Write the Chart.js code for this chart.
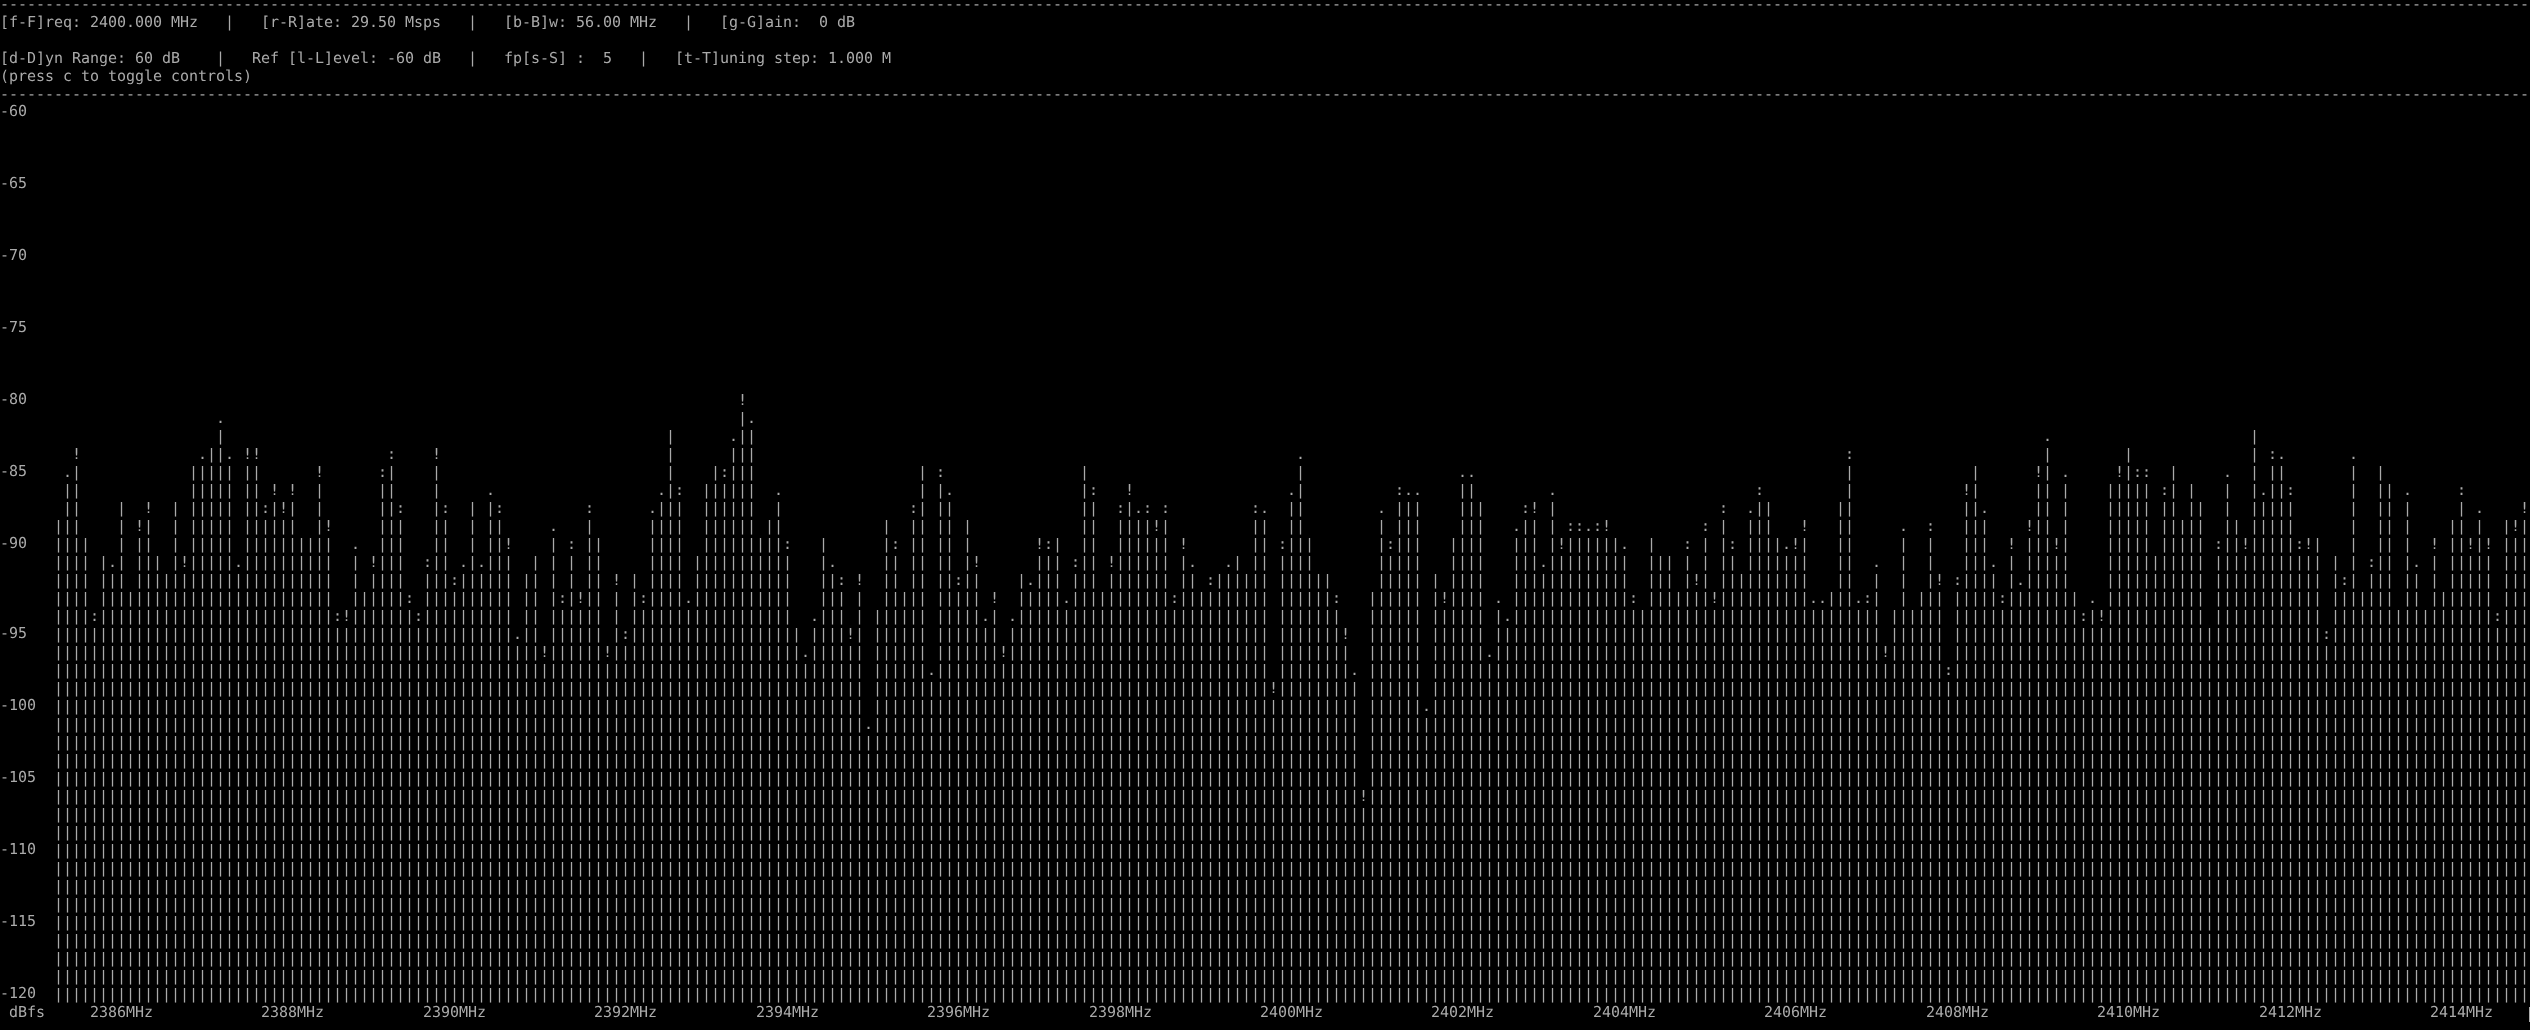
<!DOCTYPE html>
<html>
<head>
<meta charset="utf-8">
<title>Spectrum</title>
<script src="https://cdn.jsdelivr.net/npm/chart.js@4"></script>
<style>
html,body{margin:0;padding:0;background:#000;width:2530px;height:1030px;overflow:hidden}
#wrap{position:absolute;left:0;top:0;width:2530px;height:1030px}
canvas{display:block}
pre{position:absolute;margin:0;color:#aaa;font:15px/18px "DejaVu Sans Mono",monospace;letter-spacing:-0.0308px;white-space:pre;text-rendering:geometricPrecision}
#cursor{position:absolute;left:2529px;top:1007px;width:1px;height:15px;background:#aaa}
</style>
</head>
<body>
<div id="wrap"><canvas id="c" width="2530" height="1030"></canvas></div>
<pre id="head" style="left:0;top:-5px"></pre>
<pre id="unit" style="left:9px;top:1003px"></pre>
<div id="cursor"></div>
<script>
const headerLines = [
  '-'.repeat(281),
  '[f-F]req: 2400.000 MHz   |   [r-R]ate: 29.50 Msps   |   [b-B]w: 56.00 MHz   |   [g-G]ain:  0 dB',
  '',
  '[d-D]yn Range: 60 dB    |   Ref [l-L]evel: -60 dB   |   fp[s-S] :  5   |   [t-T]uning step: 1.000 M',
  '(press c to toggle controls)',
  '-'.repeat(281)
];
const unitLabel = 'dBfs';
const refLevelDb = -60;
const dynRangeDb = 60;
const rowCount = 49;
const yTickRows = [0, 4, 8, 12, 16, 20, 24, 29, 33, 37, 41, 45, 49];
const yTickLabels = ['-60','-65','-70','-75','-80','-85','-90','-95','-100','-105','-110','-115','-120'];
const xTickColumns = [7, 26, 44, 63, 81, 100, 118, 137, 156, 174, 193, 211, 230, 248, 267];
const xTickLabels = ['2386MHz','2388MHz','2390MHz','2392MHz','2394MHz','2396MHz','2398MHz','2400MHz','2402MHz','2404MHz','2406MHz','2408MHz','2410MHz','2412MHz','2414MHz'];
const peakDb = [
-88.3,-85.6,-83.7,-89.5,-95.1,-90.8,-91.7,-87.1,-93.2,-88.6,-87.4,-90.8,-92.0,-87.1,-91.1,-84.6,-84.3,-83.4,-81.9,-84.3,
-91.7,-83.7,-83.7,-87.7,-86.2,-87.4,-86.2,-89.5,-89.5,-84.9,-88.6,-95.1,-94.7,-90.5,-93.2,-91.1,-85.3,-84.0,-87.7,-93.8,
-95.1,-91.4,-83.7,-87.7,-92.6,-91.7,-87.1,-91.7,-86.8,-87.7,-89.8,-96.6,-92.0,-90.8,-97.2,-89.2,-93.8,-90.2,-93.5,-87.7,
-89.5,-97.2,-92.3,-96.3,-92.0,-93.8,-88.0,-86.8,-82.2,-86.5,-94.1,-90.8,-85.9,-84.6,-85.3,-83.1,-80.1,-81.9,-89.5,-88.3,
-86.8,-90.2,-95.7,-97.8,-95.4,-89.5,-91.7,-92.6,-96.0,-92.3,-102.7,-94.4,-88.3,-90.2,-93.2,-87.7,-84.6,-99.0,-85.3,-86.8,
-92.6,-88.3,-91.1,-95.4,-93.5,-97.2,-95.4,-92.0,-92.9,-89.8,-90.2,-89.5,-94.1,-91.4,-84.6,-86.5,-93.2,-91.1,-87.7,-86.2,
-88.0,-87.7,-88.6,-87.7,-93.8,-89.8,-91.7,-93.2,-92.6,-92.0,-91.7,-90.8,-92.0,-87.7,-88.0,-99.6,-90.2,-86.8,-84.3,-89.5,
-92.0,-92.0,-93.8,-96.0,-99.0,-107.0,-93.2,-88.0,-90.2,-86.5,-86.8,-86.8,-101.5,-92.0,-93.5,-89.5,-85.6,-85.6,-87.1,-97.8,
-94.1,-95.4,-89.2,-87.7,-87.4,-91.7,-86.8,-89.8,-88.9,-88.9,-89.2,-88.9,-88.6,-89.5,-90.5,-93.8,-94.4,-89.5,-90.8,-90.8,
-93.2,-90.2,-92.3,-88.9,-93.5,-87.7,-90.2,-92.0,-88.0,-86.5,-87.1,-89.5,-90.5,-89.8,-88.6,-94.1,-94.1,-93.2,-87.1,-84.0,
-94.1,-93.8,-91.7,-97.2,-94.4,-89.2,-94.4,-93.2,-88.9,-92.3,-98.7,-92.6,-86.2,-84.6,-88.0,-91.7,-93.8,-89.8,-92.9,-88.6,
-84.9,-83.1,-89.8,-85.6,-93.2,-95.1,-94.1,-94.7,-85.9,-84.9,-83.4,-85.3,-85.3,-90.8,-86.5,-84.6,-88.3,-85.9,-87.1,-95.7,
-90.2,-85.6,-88.3,-89.8,-82.2,-86.8,-84.0,-84.3,-86.5,-90.2,-89.8,-89.5,-96.3,-90.8,-92.6,-84.3,-93.2,-91.4,-84.6,-85.9,
-94.4,-86.8,-91.7,-94.4,-89.8,-93.2,-88.3,-86.5,-89.8,-88.0,-89.8,-95.1,-88.3,-88.6,-87.4
];

const textColor = '#aaaaaa';
const monoFont = '"DejaVu Sans Mono", monospace';

document.getElementById('head').textContent = headerLines.join('\n');
document.getElementById('unit').textContent = unitLabel;

// Glyph sprites used as point styles: one terminal cell each.
function glyphSprite(ch) {
  const cv = document.createElement('canvas');
  cv.width = 9; cv.height = 18;
  const g = cv.getContext('2d');
  g.textRendering = 'geometricPrecision';
  g.font = '15px ' + monoFont;
  g.fillStyle = textColor;
  g.textBaseline = 'alphabetic';
  if (ch === '|') {
    g.beginPath(); g.rect(0, 3, 9, 15); g.clip();
    g.fillText(ch, 0, 14.46);
  } else {
    g.fillText(ch, 0, 14);
  }
  return cv;
}
const glyphs = ['|', '!', ':', '.'];
const rowDb = dynRangeDb / rowCount;
const rowToDb = r => refLevelDb - r * rowDb;
const cells = { '|': [], '!': [], ':': [], '.': [] };
peakDb.forEach((v, col) => {
  const p = (refLevelDb - v) / rowDb;
  const top = Math.floor(p);
  const g = glyphs[Math.min(3, Math.floor((p - top) * 4))];
  cells[g].push({ x: col, y: rowToDb(top) });
  for (let r = top + 1; r <= rowCount; r++) cells['|'].push({ x: col, y: rowToDb(r) });
});

new Chart(document.getElementById('c'), {
  type: 'scatter',
  data: {
    datasets: glyphs.map(g => ({
      label: g,
      data: cells[g],
      pointStyle: glyphSprite(g),
      pointRadius: 1,
      pointHoverRadius: 1,
      showLine: false,
      clip: false
    }))
  },
  plugins: [{ id: 'textMode', beforeDraw: c => { c.ctx.textRendering = 'geometricPrecision'; } }],
  options: {
    responsive: false,
    animation: false,
    events: [],
    devicePixelRatio: 1,
    layout: { autoPadding: false, padding: { left: 0, top: 112, right: 1, bottom: 0 } },
    plugins: { legend: { display: false }, tooltip: { enabled: false }, title: { display: false } },
    scales: {
      x: {
        type: 'linear',
        bounds: 'data',
        min: -0.5,
        max: peakDb.length - 0.5,
        grid: { display: false, drawTicks: false },
        border: { display: false },
        afterFit: s => { s.height = 36; s.paddingLeft = 0; s.paddingRight = 0; },
        afterBuildTicks: s => { s.ticks = xTickColumns.map(v => ({ value: v })); },
        ticks: {
          autoSkip: false,
          maxRotation: 0,
          minRotation: 0,
          padding: 10,
          color: textColor,
          font: { family: monoFont, size: 15 },
          callback: v => xTickLabels[xTickColumns.indexOf(v)]
        }
      },
      y: {
        type: 'linear',
        bounds: 'data',
        min: refLevelDb - dynRangeDb,
        max: refLevelDb,
        grid: { display: false, drawTicks: false },
        border: { display: false },
        afterFit: s => { s.width = 54; s.paddingTop = 0; s.paddingBottom = 0; },
        afterBuildTicks: s => { s.ticks = yTickRows.map(r => ({ value: rowToDb(r + 0.5 / 18) })); },
        ticks: {
          autoSkip: false,
          crossAlign: 'far',
          padding: 0,
          color: textColor,
          font: { family: monoFont, size: 15 },
          callback: (v, i) => yTickLabels[i]
        }
      }
    }
  }
});
</script>
</body>
</html>
